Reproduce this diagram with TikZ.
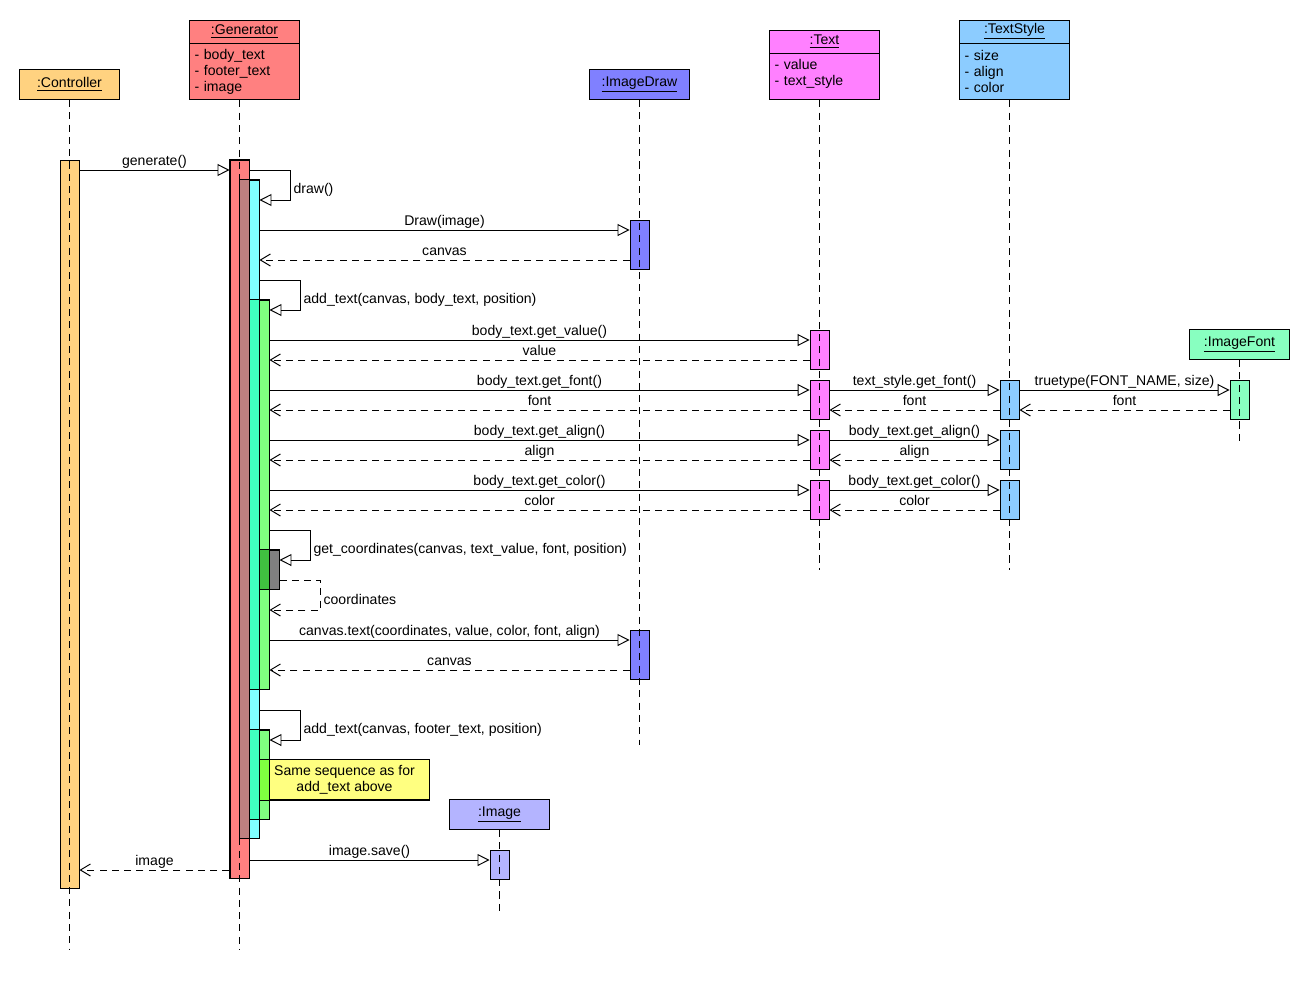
\documentclass[tikz,border=0pt]{standalone}
\usepackage{fontspec}
\setmainfont{Liberation Sans}
\usepackage{tikz}
\usetikzlibrary{positioning,arrows.meta,fit}

\definecolor{ctrlcol}{RGB}{255,210,128}
\definecolor{gencol}{RGB}{255,128,128}
\definecolor{drawcol}{RGB}{128,128,255}
\definecolor{textcol}{RGB}{255,128,255}
\definecolor{stylecol}{RGB}{140,204,255}
\definecolor{fontcol}{RGB}{136,255,192}
\definecolor{imgcol}{RGB}{180,180,255}
\definecolor{cyancol}{RGB}{128,255,255}
\definecolor{greencol}{RGB}{128,255,128}
\definecolor{graycol}{RGB}{128,128,128}
\definecolor{notecol}{RGB}{255,255,128}
\definecolor{browncol}{RGB}{190,128,128}
\definecolor{tealcol}{RGB}{64,255,192}
\definecolor{dkgreencol}{RGB}{64,192,64}
\definecolor{limecol}{RGB}{128,255,64}

\tikzset{
    seqobj/.style={draw, inner sep=0pt, minimum width=2cm, minimum height=0.6cm},
    seqtitle/.style={draw, inner sep=0pt, minimum width=2.2cm, minimum height=0.46cm},
    seqattr/.style={draw, inner xsep=0.1cm, inner ysep=0pt, text width=2.0cm, align=left},
    seqact/.style={draw, inner sep=0pt},
    seqnote/.style={draw, inner sep=0pt, minimum width=3.4cm, minimum height=0.8cm, align=center, fill=notecol},
    seqlife/.style={dash pattern=on 4pt off 3pt},
    seqcall/.style={-{Triangle[open, length=0.24cm, width=0.24cm]}},
    seqreturn/.style={dash pattern=on 4pt off 3pt, -{Straight Barb[length=0.2cm, width=0.24cm]}},
    seqlabel/.style={above, inner sep=0pt, text depth=2.2pt},
    seqself/.style={right, inner sep=1.5pt, yshift=-2.5pt}
}

\begin{document}
\begin{tikzpicture}[x=0.02cm, y=-0.02cm, line width=0.55pt, font=\fontsize{8}{9.1}\selectfont]
    \useasboundingbox (0,0) rectangle (1310,990);

    % objects
    \node[seqobj, fill=ctrlcol] (ctrl) at (69.5,84.5) {\underline{:Controller}};
    \node[seqtitle, fill=gencol] (gentitle) at (244.5,31.5) {\underline{:Generator}};
    \node[seqattr, fill=gencol, minimum height=1.12cm, below=0pt of gentitle] (genattr) {- body\_text\\- footer\_text\\- image};
    \node[seqobj, fill=drawcol] (idraw) at (639.5,84.5) {\underline{:ImageDraw}};
    \node[seqtitle, fill=textcol] (txttitle) at (824.5,41.5) {\underline{:Text}};
    \node[seqattr, fill=textcol, minimum height=0.92cm, below=0pt of txttitle] (txtattr) {- value\\- text\_style\\[-4pt]\mbox{}};
    \node[seqtitle, fill=stylecol] (stytitle) at (1014.5,31.5) {\underline{:TextStyle}};
    \node[seqattr, fill=stylecol, minimum height=1.12cm, below=0pt of stytitle] (styattr) {- size\\- align\\- color};
    \node[seqobj, fill=fontcol] (ifont) at (1239.5,344.5) {\underline{:ImageFont}};
    \node[seqobj, fill=imgcol] (image) at (499.5,814.5) {\underline{:Image}};

    % activations
    \node[seqact, fill=ctrlcol, fit={(60,160) (79,888)}] (ctrlact) {};
    \node[seqact, fill=gencol, fit={(230,160) (249,878)}] (genact) {};
    \node[seqact, fill=cyancol, fit={(240,180) (259,838)}] (drawact) {};
    \node[seqact, fill=greencol, fit={(250,300) (269,689)}] (addact) {};
    \node[seqact, fill=graycol, fit={(260,550) (279,589)}] (coordact) {};
    \node[seqact, fill=greencol, fit={(250,730) (269,819)}] (addact2) {};
    \node[seqnote] (note) at (344.5,779.5) {Same sequence as for\\add\_text above};
    \node[seqact, fill=drawcol, fit={(630,220) (649,269)}] (idact1) {};
    \node[seqact, fill=drawcol, fit={(630,630) (649,679)}] (idact2) {};
    \node[seqact, fill=textcol, fit={(810,330) (829,369)}] (txtact1) {};
    \node[seqact, fill=textcol, fit={(810,380) (829,419)}] (txtact2) {};
    \node[seqact, fill=textcol, fit={(810,430) (829,469)}] (txtact3) {};
    \node[seqact, fill=textcol, fit={(810,480) (829,519)}] (txtact4) {};
    \node[seqact, fill=stylecol, fit={(1000,380) (1019,419)}] (styact1) {};
    \node[seqact, fill=stylecol, fit={(1000,430) (1019,469)}] (styact2) {};
    \node[seqact, fill=stylecol, fit={(1000,480) (1019,519)}] (styact3) {};
    \node[seqact, fill=fontcol, fit={(1230,380) (1249,419)}] (fontact) {};
    \node[seqact, fill=imgcol, fit={(490,850) (509,879)}] (imageact) {};

    % overlapping parts
    \fill[browncol] (drawact.north west) rectangle (genact.east |- drawact.south);
    \fill[tealcol] (addact.north west) rectangle (drawact.east |- addact.south);
    \fill[tealcol] (addact2.north west) rectangle (drawact.east |- addact2.south);
    \fill[dkgreencol] (coordact.north west) rectangle (addact.east |- coordact.south);
    \fill[limecol] (note.north west) rectangle (addact2.east |- note.south);
    \foreach \n in {genact, drawact, addact, coordact, addact2, note}
        \draw (\n.north west) rectangle (\n.south east);

    % lifelines
    \draw[seqlife] (ctrl.south -| ctrlact) -- (ctrlact |- 0,950);
    \draw[seqlife] (genattr.south -| genact) -- (genact |- 0,950);
    \draw[seqlife] (idraw.south -| idact1) -- (idact1 |- 0,745);
    \draw[seqlife] (txtattr.south -| txtact1) -- (txtact1 |- 0,570);
    \draw[seqlife] (styattr.south -| styact1) -- (styact1 |- 0,570);
    \draw[seqlife] (ifont.south -| fontact) -- (fontact |- 0,445);
    \draw[seqlife] (image.south -| imageact) -- (imageact |- 0,915);

    % messages
    \draw[seqcall] (ctrlact.east |- 0,170) -- node[seqlabel]{generate()} (genact.west |- 0,170);
    \draw[seqcall] (genact.east |- 0,170) -- ++(41,0) -- node[seqself]{draw()} ++(0,30) -- (drawact.east |- 0,200);
    \draw[seqcall] (drawact.east |- 0,230) -- node[seqlabel]{Draw(image)} (idact1.west |- 0,230);
    \draw[seqreturn] (idact1.west |- 0,260) -- node[seqlabel]{canvas} (drawact.east |- 0,260);
    \draw[seqcall] (drawact.east |- 0,280) -- ++(41,0) -- node[seqself]{add\_text(canvas, body\_text, position)} ++(0,30) -- (addact.east |- 0,310);

    \draw[seqcall] (addact.east |- 0,340) -- node[seqlabel]{body\_text.get\_value()} (txtact1.west |- 0,340);
    \draw[seqreturn] (txtact1.west |- 0,360) -- node[seqlabel]{value} (addact.east |- 0,360);

    \draw[seqcall] (addact.east |- 0,390) -- node[seqlabel]{body\_text.get\_font()} (txtact2.west |- 0,390);
    \draw[seqreturn] (txtact2.west |- 0,410) -- node[seqlabel]{font} (addact.east |- 0,410);
    \draw[seqcall] (txtact2.east |- 0,390) -- node[seqlabel]{text\_style.get\_font()} (styact1.west |- 0,390);
    \draw[seqreturn] (styact1.west |- 0,410) -- node[seqlabel]{font} (txtact2.east |- 0,410);
    \draw[seqcall] (styact1.east |- 0,390) -- node[seqlabel]{truetype(FONT\_NAME, size)} (fontact.west |- 0,390);
    \draw[seqreturn] (fontact.west |- 0,410) -- node[seqlabel]{font} (styact1.east |- 0,410);

    \draw[seqcall] (addact.east |- 0,440) -- node[seqlabel]{body\_text.get\_align()} (txtact3.west |- 0,440);
    \draw[seqreturn] (txtact3.west |- 0,460) -- node[seqlabel]{align} (addact.east |- 0,460);
    \draw[seqcall] (txtact3.east |- 0,440) -- node[seqlabel]{body\_text.get\_align()} (styact2.west |- 0,440);
    \draw[seqreturn] (styact2.west |- 0,460) -- node[seqlabel]{align} (txtact3.east |- 0,460);

    \draw[seqcall] (addact.east |- 0,490) -- node[seqlabel]{body\_text.get\_color()} (txtact4.west |- 0,490);
    \draw[seqreturn] (txtact4.west |- 0,510) -- node[seqlabel]{color} (addact.east |- 0,510);
    \draw[seqcall] (txtact4.east |- 0,490) -- node[seqlabel]{body\_text.get\_color()} (styact3.west |- 0,490);
    \draw[seqreturn] (styact3.west |- 0,510) -- node[seqlabel]{color} (txtact4.east |- 0,510);

    \draw[seqcall] (addact.east |- 0,530) -- ++(41,0) -- node[seqself]{get\_coordinates(canvas, text\_value, font, position)} ++(0,30) -- (coordact.east |- 0,560);
    \draw[seqreturn] (coordact.east |- 0,580) -- ++(41,0) -- node[seqself]{coordinates} ++(0,30) -- (addact.east |- 0,610);
    \draw[seqcall] (addact.east |- 0,640) -- node[seqlabel]{canvas.text(coordinates, value, color, font, align)} (idact2.west |- 0,640);
    \draw[seqreturn] (idact2.west |- 0,670) -- node[seqlabel]{canvas} (addact.east |- 0,670);

    \draw[seqcall] (drawact.east |- 0,710) -- ++(41,0) -- node[seqself]{add\_text(canvas, footer\_text, position)} ++(0,30) -- (addact2.east |- 0,740);

    \draw[seqcall] (genact.east |- 0,860) -- node[seqlabel]{image.save()} (imageact.west |- 0,860);
    \draw[seqreturn] (genact.west |- 0,870) -- node[seqlabel]{image} (ctrlact.east |- 0,870);
\end{tikzpicture}
\end{document}
